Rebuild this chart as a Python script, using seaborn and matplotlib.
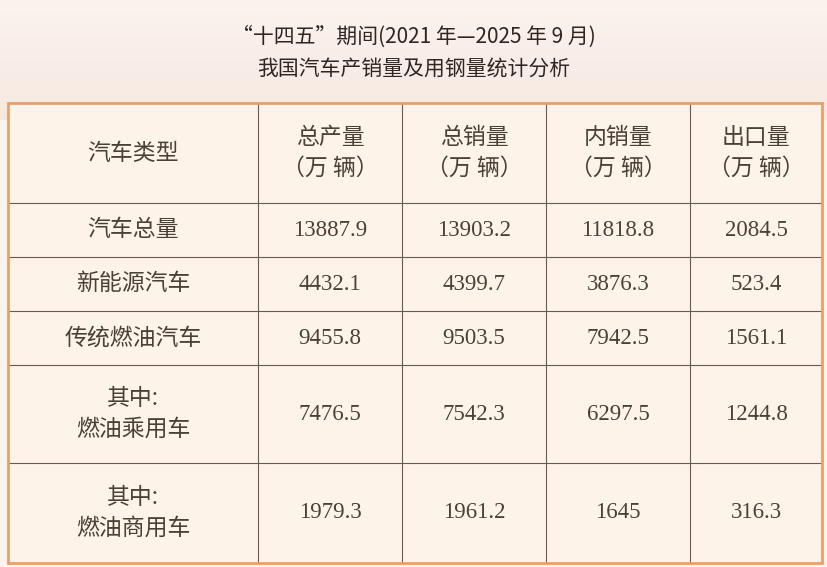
import matplotlib
matplotlib.use("Agg")
import matplotlib.pyplot as plt
import numpy as np
import seaborn as sns

sns.set_theme(style="white")
plt.rcParams["font.family"] = ["Noto Sans CJK SC", "DejaVu Sans"]

title_lines = ["“十四五”期间(2021 年—2025 年 9 月)", "我国汽车产销量及用钢量统计分析"]
col_headers = ["汽车类型", "总产量\n（万 辆）", "总销量\n（万 辆）", "内销量\n（万 辆）", "出口量\n（万 辆）"]
row_labels = ["汽车总量", "新能源汽车", "传统燃油汽车", "其中:\n燃油乘用车", "其中:\n燃油商用车"]
production = ["13887.9", "4432.1", "9455.8", "7476.5", "1979.3"]
sales = ["13903.2", "4399.7", "9503.5", "7542.3", "1961.2"]
domestic = ["11818.8", "3876.3", "7942.5", "6297.5", "1645"]
export = ["2084.5", "523.4", "1561.1", "1244.8", "316.3"]

W, H = 827, 567
col_edges = [8, 258, 402, 546, 690, 822]
row_edges = [103, 203, 257, 311, 365, 463, 563]
text_c = "#4a4038"
line_c = "#6b5a50"
border_c = "#e6a06e"

fig = plt.figure(figsize=(W / 100, H / 100), dpi=100)
ax = fig.add_axes([0, 0, 1, 1])
ax.set_xlim(0, W)
ax.set_ylim(H, 0)
ax.axis("off")

# background: soft gradient in title area
grad = np.linspace(0, 1, 120).reshape(-1, 1)
ax.imshow(grad, cmap=matplotlib.colors.LinearSegmentedColormap.from_list("bg", ["#fbf3ec", "#f6e9e2"]),
          extent=[0, W, 120, 0], aspect="auto", zorder=0)
ax.add_patch(plt.Rectangle((0, 120), W, H - 120, color="#faf4ef", zorder=0))

ax.text(W / 2, 37, title_lines[0], ha="center", va="center", fontsize=15, color="#2f2622",
        fontweight="medium", zorder=3)
ax.text(W / 2, 70, title_lines[1], ha="center", va="center", fontsize=15, color="#2f2622",
        fontweight="medium", zorder=3)

# table body
ax.add_patch(plt.Rectangle((col_edges[0], row_edges[0]), col_edges[-1] - col_edges[0],
                           row_edges[-1] - row_edges[0], facecolor="#fdf3e8", edgecolor="none", zorder=1))
for x in col_edges[1:-1]:
    ax.plot([x, x], [row_edges[0], row_edges[-1]], color=line_c, lw=0.8, zorder=2)
for y in row_edges[1:-1]:
    ax.plot([col_edges[0], col_edges[-1]], [y, y], color=line_c, lw=0.8, zorder=2)
ax.add_patch(plt.Rectangle((col_edges[0], row_edges[0]), col_edges[-1] - col_edges[0],
                           row_edges[-1] - row_edges[0], facecolor="none", edgecolor=border_c, lw=2, zorder=3))

def cx(i):
    return (col_edges[i] + col_edges[i + 1]) / 2

def cy(j):
    return (row_edges[j] + row_edges[j + 1]) / 2

for i, h in enumerate(col_headers):
    ax.text(cx(i), cy(0), h, ha="center", va="center", fontsize=16.5, color=text_c,
            linespacing=1.45, zorder=4)

columns = [production, sales, domestic, export]
for j, lab in enumerate(row_labels):
    ax.text(cx(0), cy(j + 1), lab, ha="center", va="center", fontsize=16.5, color=text_c,
            linespacing=1.45, zorder=4)
    for i, col in enumerate(columns):
        ax.text(cx(i + 1), cy(j + 1), col[j], ha="center", va="center", fontsize=16.5,
                color=text_c, family=["Liberation Serif", "DejaVu Serif"], zorder=4)

fig.savefig("out.png", dpi=100)
